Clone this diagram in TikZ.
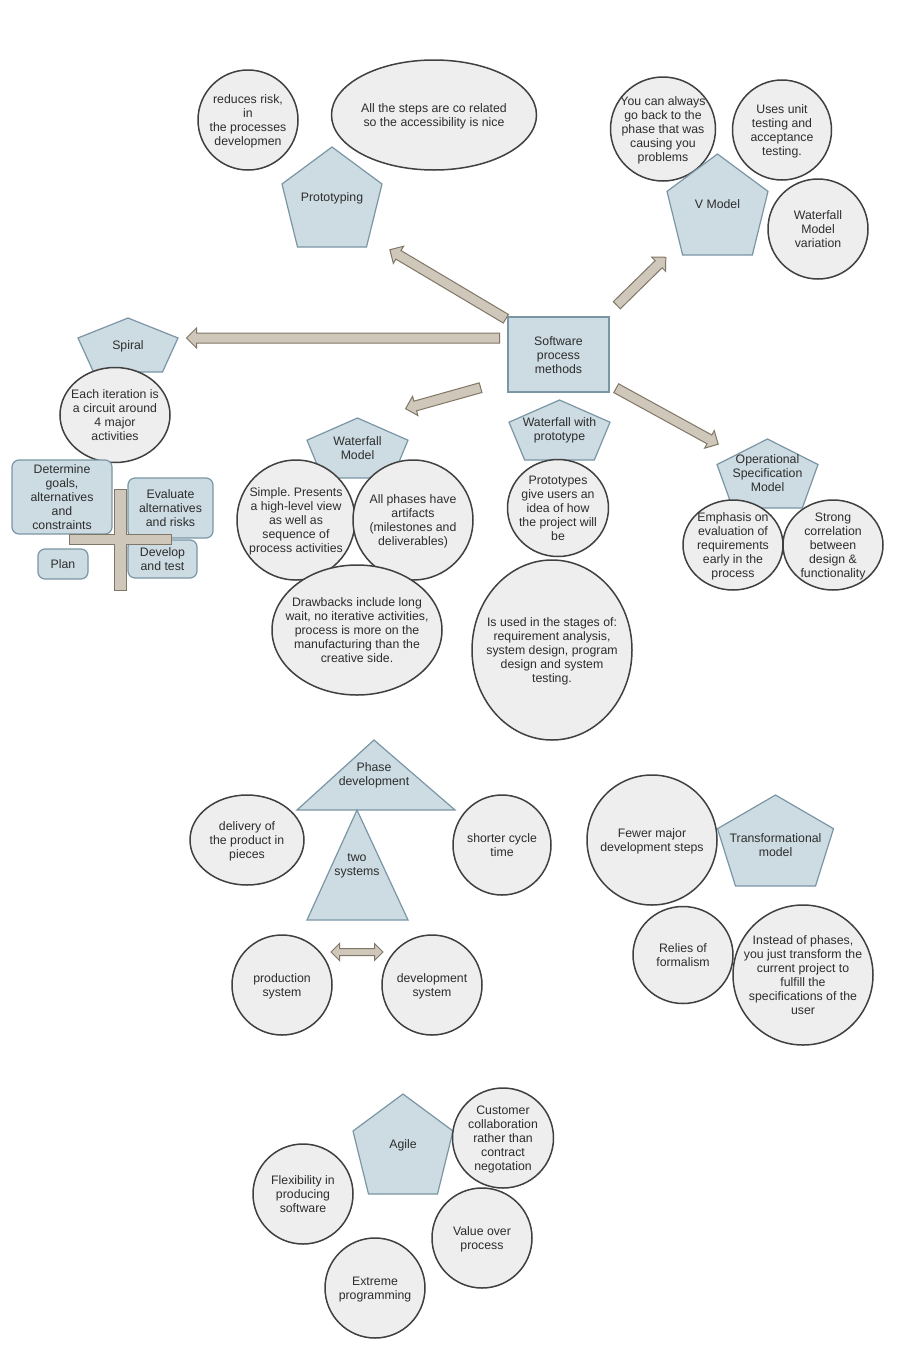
\documentclass[tikz,border=0pt]{standalone}
\usepackage{fontspec}
\setmainfont{Liberation Sans}
\usetikzlibrary{shapes.geometric,shapes.arrows,calc}
\frenchspacing
\definecolor{pentfill}{RGB}{205,219,227}
\definecolor{pentline}{RGB}{122,150,165}
\definecolor{circfill}{RGB}{238,238,238}
\definecolor{circline}{RGB}{64,64,64}
\definecolor{arrfill}{RGB}{207,199,185}
\definecolor{arrline}{RGB}{128,118,103}
\definecolor{txt}{RGB}{45,45,45}
\newsavebox\ztbox
\newcommand\ztext[1]{\sbox\ztbox{\begin{tabular}{@{}c@{}}#1\end{tabular}}\makebox[0pt][c]{\raisebox{\dimexpr(\dp\ztbox-\ht\ztbox)/2-2pt\relax}[0pt][0pt]{\usebox\ztbox}}}
% pentagon: name, cx, top, width, height, text y, text
\newcommand\pent[7]{%
  \draw[pentst] (#2,#3) -- (#2+0.5*#4,#3+0.37*#5) -- (#2+0.345*#4,#3+#5) -- (#2-0.345*#4,#3+#5) -- (#2-0.5*#4,#3+0.37*#5) -- cycle;
  \node (#1) at (#2,#6) {\ztext{#7}};}
% block arrow between two named coordinates
\newcommand\blockarrow[3][barrow]{%
  \path let \p1=($(#3)-(#2)$), \n1={atan2(\y1,\x1)}, \n2={veclen(\x1,\y1)} in
    node[#1, minimum height=\n2, rotate=\n1] (arrow-#3) at ($(#2)!0.5!(#3)$) {};}
\begin{document}
\begin{tikzpicture}[x=1pt,y=-1pt,
  every node/.style={font=\fontsize{12.3}{14}\selectfont, text=txt, inner sep=0pt, outer sep=0pt},
  circ/.style={ellipse, draw=circline, fill=circfill, line width=1.5pt},
  pentst/.style={draw=pentline, fill=pentfill, line width=1.2pt, line join=miter},
  bluebox/.style={rectangle, draw=pentline, fill=pentfill, line width=1.2pt},
  rbox/.style={bluebox, rounded corners=7pt},
  barrow/.style={single arrow, draw=arrline, fill=arrfill, line width=1pt, inner sep=4.5pt, single arrow head extend=5pt, minimum width=0pt},
  dbarrow/.style={double arrow, draw=arrline, fill=arrfill, line width=1pt, inner sep=3pt, double arrow head extend=5pt, minimum width=0pt}]
\useasboundingbox[fill=white] (0,0) rectangle (909,1358);

% ---------- Prototyping ----------
\node[circ, minimum width=100, minimum height=100] (risk) at (248,120) {\ztext{reduces risk,\\in\\the processes\\developmen}};
\node[circ, minimum width=205, minimum height=110] (steps) at (434,115) {\ztext{All the steps are co related\\so the accessibility is nice}};
\pent{proto}{332}{147}{100}{100}{197}{Prototyping}

% ---------- V Model ----------
\node[circ, minimum width=105, minimum height=104] (always) at (663,129) {\ztext{You can always\\go back to the\\phase that was\\causing you\\problems}};
\node[circ, minimum width=99, minimum height=100] (unit) at (782,130) {\ztext{Uses unit\\testing and\\acceptance\\testing.}};
\pent{vmodel}{717.5}{154}{101}{101}{204}{V Model}
\node[circ, minimum width=100, minimum height=100] (wvar) at (818,229) {\ztext{Waterfall\\Model\\variation}};

% ---------- Spiral ----------
\pent{spiral}{128}{318}{100}{54}{345}{Spiral}
\node[circ, minimum width=110, minimum height=95] (iter) at (115,415) {\ztext{Each iteration is\\a circuit around\\4 major\\activities}};
\node[rbox, minimum width=100, minimum height=74] (goals) at (62,497) {\ztext{Determine\\goals,\\alternatives\\and\\constraints}};
\node[rbox, minimum width=85, minimum height=60] (evalb) at (170.5,508) {\ztext{Evaluate\\alternatives\\and risks}};
\node[rbox, minimum width=50, minimum height=30] (plan) at (63,564) {\ztext{Plan}};
\node[rbox, minimum width=69, minimum height=38] (devtest) at (162.5,559) {\ztext{Develop\\and test}};
\draw[draw=arrline, fill=arrfill, line width=1pt] (114,489) -- (126,489) -- (126,534) -- (171,534) -- (171,544) -- (126,544) -- (126,590) -- (114,590) -- (114,544) -- (69,544) -- (69,534) -- (114,534) -- cycle;

% ---------- centre ----------
\node[bluebox, minimum width=101, minimum height=75] (spm) at (558.5,354.5) {\ztext{Software\\process\\methods}};

% ---------- Waterfall Model ----------
\pent{wfm}{357.5}{418}{101}{60}{448}{Waterfall\\Model}
\node[circ, minimum width=118, minimum height=120] (simple) at (296,520) {\ztext{Simple. Presents\\a high-level view\\as well as\\sequence of\\process activities}};
\node[circ, minimum width=120, minimum height=120] (phases) at (413,520) {\ztext{All phases have\\artifacts\\(milestones and\\deliverables)}};
\node[circ, minimum width=170, minimum height=130] (drawb) at (357,630) {\ztext{Drawbacks include long\\wait, no iterative activities,\\process is more on the\\manufacturing than the\\creative side.}};

% ---------- Waterfall with prototype ----------
\pent{wfp}{559.5}{400}{101}{60}{429}{Waterfall with\\prototype}
\node[circ, minimum width=101, minimum height=97] (protos) at (558,508) {\ztext{Prototypes\\give users an\\idea of how\\the project will\\be}};
\node[circ, minimum width=160, minimum height=180] (stages) at (552,650) {\ztext{Is used in the stages of:\\requirement analysis,\\system design, program\\design and system\\testing.}};

% ---------- Operational Specification ----------
\pent{opspec}{767.5}{439}{101}{69}{473}{Operational\\Specification\\Model}
\node[circ, minimum width=100, minimum height=90] (emph) at (733,545) {\ztext{Emphasis on\\evaluation of\\requirements\\early in the\\process}};
\node[circ, minimum width=100, minimum height=90] (strong) at (833,545) {\ztext{Strong\\correlation\\between\\design \&\\functionality}};

% ---------- arrows from centre ----------
\coordinate (t1) at (508,320); \coordinate (h1) at (392,251);
\coordinate (t2) at (502,338); \coordinate (h2) at (189,338);
\coordinate (t3) at (615,307); \coordinate (h3) at (664,259);
\coordinate (t4) at (483,387); \coordinate (h4) at (408,408);
\coordinate (t5) at (614,387); \coordinate (h5) at (716,443);
\blockarrow{t1}{h1}
\blockarrow{t2}{h2}
\blockarrow{t3}{h3}
\blockarrow{t4}{h4}
\blockarrow{t5}{h5}

% ---------- Phase development ----------
\draw[pentst] (374,740) -- (455,810) -- (297,810) -- cycle;
\node (phase) at (374,774) {\ztext{Phase\\development}};
\draw[pentst] (357,810) -- (408,920) -- (307,920) -- cycle;
\node (twosys) at (357,864) {\ztext{two\\systems}};
\node[circ, minimum width=114, minimum height=90] (deliv) at (247,840) {\ztext{delivery of\\the product in\\pieces}};
\node[circ, minimum width=98, minimum height=100] (shorter) at (502,845) {\ztext{shorter cycle\\time}};
\node[circ, minimum width=100, minimum height=100] (prod) at (282,985) {\ztext{production\\system}};
\node[circ, minimum width=100, minimum height=100] (devsys) at (432,985) {\ztext{development\\system}};
\coordinate (d1) at (331,952); \coordinate (d2) at (383,952);
\blockarrow[dbarrow]{d1}{d2}

% ---------- Transformational ----------
\node[circ, minimum width=130, minimum height=130] (fewer) at (652,840) {\ztext{Fewer major\\development steps}};
\pent{transf}{775.5}{795}{116}{91}{845}{Transformational\\model}
\node[circ, minimum width=100, minimum height=97] (relies) at (683,955) {\ztext{Relies of\\formalism}};
\node[circ, minimum width=140, minimum height=140] (instead) at (803,975) {\ztext{Instead of phases,\\you just transform the\\current project to\\fulfill the\\specifications of the\\user}};

% ---------- Agile ----------
\pent{agile}{403}{1094}{100}{100}{1144}{Agile}
\node[circ, minimum width=101, minimum height=100] (cust) at (503,1138) {\ztext{Customer\\collaboration\\rather than\\contract\\negotation}};
\node[circ, minimum width=100, minimum height=100] (flex) at (303,1194) {\ztext{Flexibility in\\producing\\software}};
\node[circ, minimum width=100, minimum height=100] (value) at (482,1238) {\ztext{Value over\\process}};
\node[circ, minimum width=100, minimum height=100] (extreme) at (375,1288) {\ztext{Extreme\\programming}};
\end{tikzpicture}
\end{document}
